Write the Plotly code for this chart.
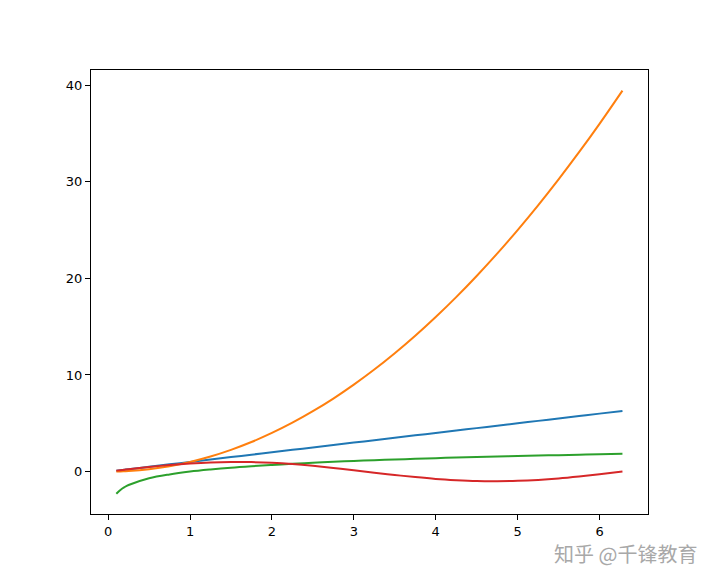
import plotly.graph_objects as go

x_vals = [0.1, 0.15, 0.2, 0.25, 0.5, 0.75, 1.0, 1.25, 1.5, 1.75, 2.0, 2.25, 2.5, 2.75, 3.0,
          3.25, 3.5, 3.75, 4.0, 4.25, 4.5, 4.75, 5.0, 5.25, 5.5, 5.75, 6.0, 6.28]
y_linear = [0.1, 0.15, 0.2, 0.25, 0.5, 0.75, 1.0, 1.25, 1.5, 1.75, 2.0, 2.25, 2.5, 2.75, 3.0,
            3.25, 3.5, 3.75, 4.0, 4.25, 4.5, 4.75, 5.0, 5.25, 5.5, 5.75, 6.0, 6.28]
y_square = [0.01, 0.02, 0.04, 0.06, 0.25, 0.56, 1.0, 1.56, 2.25, 3.06, 4.0, 5.06, 6.25, 7.56, 9.0,
            10.56, 12.25, 14.06, 16.0, 18.06, 20.25, 22.56, 25.0, 27.56, 30.25, 33.06, 36.0, 39.44]
y_log = [-2.30, -1.90, -1.61, -1.39, -0.69, -0.29, 0.0, 0.22, 0.41, 0.56, 0.69, 0.81, 0.92, 1.01, 1.10,
         1.18, 1.25, 1.32, 1.39, 1.45, 1.50, 1.56, 1.61, 1.66, 1.70, 1.75, 1.79, 1.84]
y_sin = [0.10, 0.15, 0.20, 0.25, 0.48, 0.68, 0.84, 0.95, 1.00, 0.98, 0.91, 0.78, 0.60, 0.38, 0.14,
         -0.11, -0.35, -0.57, -0.76, -0.89, -0.98, -1.00, -0.96, -0.86, -0.71, -0.51, -0.28, 0.00]

x_ticks = [0, 1, 2, 3, 4, 5, 6]
y_ticks = [0, 10, 20, 30, 40]
watermark = "知乎 @千锋教育"

series = [
    (y_linear, "#1f77b4"),
    (y_square, "#ff7f0e"),
    (y_log, "#2ca02c"),
    (y_sin, "#d62728"),
]

fig = go.Figure()
for ys, col in series:
    fig.add_trace(go.Scatter(x=x_vals, y=ys, mode="lines",
                             line=dict(color=col, width=2, shape="spline", smoothing=1.0),
                             showlegend=False, hoverinfo="skip"))

axis_common = dict(showgrid=False, zeroline=False, showline=True, linecolor="black",
                   linewidth=1, mirror=True, ticks="outside", ticklen=5, tickwidth=1,
                   tickcolor="black", tickfont=dict(family="DejaVu Sans", size=13, color="black"))

ml, mt, pw, ph = 83, 62, 557, 444

fig.update_layout(
    width=720, height=578,
    margin=dict(l=ml, r=720 - ml - pw, t=mt, b=578 - mt - ph),
    plot_bgcolor="white", paper_bgcolor="white",
    xaxis=dict(range=[-0.209, 6.592], tickvals=x_ticks, **axis_common),
    yaxis=dict(range=[-4.39, 41.57], tickvals=y_ticks, **axis_common),
    annotations=[dict(text=watermark, xref="paper", yref="paper",
                      x=(625 - 8 - ml) / pw, y=(mt + ph - (553 - 8)) / ph,
                      xanchor="center", yanchor="middle", showarrow=False, borderpad=0,
                      font=dict(family="Noto Sans CJK SC", size=20, color="#a8a8a8"))],
)

fig.write_html("out.html")
